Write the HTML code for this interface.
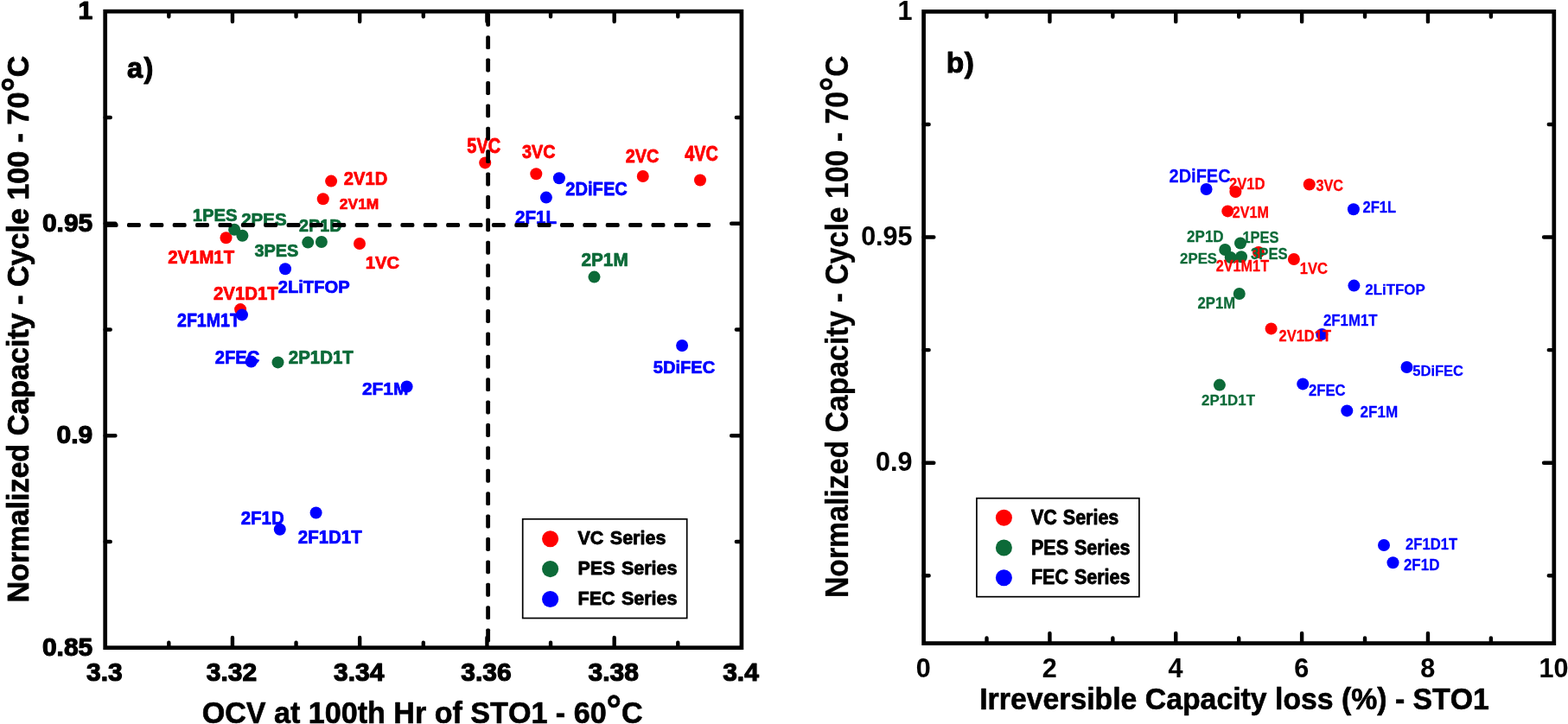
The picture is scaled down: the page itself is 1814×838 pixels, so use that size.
<!DOCTYPE html>
<html lang="en">
<head>
<meta charset="utf-8">
<title>Normalized Capacity vs OCV and Irreversible Capacity loss</title>
<style>
html,body{margin:0;padding:0;background:#fff;}
body{width:1814px;height:838px;overflow:hidden;}
svg{display:block;}
text{font-family:"Liberation Sans", Arial, Helvetica, sans-serif;font-weight:bold;stroke-linejoin:round;font-kerning:none;}
.k{fill:#000;stroke:#000;}
.r{fill:#ff0000;stroke:#ff0000;}
.g{fill:#0c6a38;stroke:#0c6a38;}
.b{fill:#0000ff;stroke:#0000ff;}
</style>
</head>
<body>
<svg width="1814" height="838" viewBox="0 0 1814 838">
<rect x="0" y="0" width="1814" height="838" fill="#ffffff" stroke="none"/>
<g id="plot-a">
<rect x="121.7" y="13.2" width="736.2" height="736.5" fill="none" stroke="#000" stroke-width="4.7"/>
<path d="M268.94 13.2v11.75M268.94 749.7v-11.75M416.18 13.2v11.75M416.18 749.7v-11.75M563.42 13.2v11.75M563.42 749.7v-11.75M710.66 13.2v11.75M710.66 749.7v-11.75M195.32 13.2v6.05M195.32 749.7v-6.05M342.56 13.2v6.05M342.56 749.7v-6.05M489.8 13.2v6.05M489.8 749.7v-6.05M637.04 13.2v6.05M637.04 749.7v-6.05M784.28 13.2v6.05M784.28 749.7v-6.05M121.7 258.7h11.75M857.9 258.7h-11.75M121.7 504.2h11.75M857.9 504.2h-11.75M121.7 135.95h6.05M857.9 135.95h-6.05M121.7 381.45h6.05M857.9 381.45h-6.05M121.7 626.95h6.05M857.9 626.95h-6.05" fill="none" stroke="#000" stroke-width="4.4" stroke-linecap="round"/>
<text transform="translate(120.8 788.1) scale(1 0.97)" font-size="30" stroke-width="1.2" text-anchor="middle" class="k">3.3</text>
<text transform="translate(268.04 788.1) scale(1 0.97)" font-size="30" stroke-width="1.2" text-anchor="middle" class="k">3.32</text>
<text transform="translate(415.28 788.1) scale(1 0.97)" font-size="30" stroke-width="1.2" text-anchor="middle" class="k">3.34</text>
<text transform="translate(562.52 788.1) scale(1 0.97)" font-size="30" stroke-width="1.2" text-anchor="middle" class="k">3.36</text>
<text transform="translate(709.76 788.1) scale(1 0.97)" font-size="30" stroke-width="1.2" text-anchor="middle" class="k">3.38</text>
<text transform="translate(857 788.1) scale(1 0.97)" font-size="30" stroke-width="1.2" text-anchor="middle" class="k">3.4</text>
<text transform="translate(107.3 22.4) scale(1 0.97)" font-size="30" stroke-width="1.2" text-anchor="end" class="k">1</text>
<text transform="translate(107.3 267.9) scale(1 0.97)" font-size="30" stroke-width="1.2" text-anchor="end" class="k">0.95</text>
<text transform="translate(107.3 513.4) scale(1 0.97)" font-size="30" stroke-width="1.2" text-anchor="end" class="k">0.9</text>
<text transform="translate(107.3 758.9) scale(1 0.97)" font-size="30" stroke-width="1.2" text-anchor="end" class="k">0.85</text>
<text transform="translate(233.7 837.3) scale(1 1.05)" font-size="34.1" stroke-width="0.6" class="k">OCV at 100th Hr of STO1 - 60<tspan font-size="43.5">°</tspan>C</text>
<text transform="translate(33.4 697.5) rotate(-90) scale(1 1.04)" font-size="34.1" stroke-width="0.7" class="k">Normalized Capacity - Cycle 100 - 70<tspan font-size="43.5">°</tspan>C</text>
<text transform="translate(147 89.6)" font-size="32.5" stroke-width="1.1" class="k" letter-spacing="1.5">a)</text>
<circle cx="383.1" cy="209.6" r="7" fill="#ff0000"/>
<circle cx="373.75" cy="230.25" r="7" fill="#ff0000"/>
<circle cx="261.5" cy="275.3" r="7" fill="#ff0000"/>
<circle cx="416" cy="282" r="7" fill="#ff0000"/>
<circle cx="278.1" cy="358.1" r="7" fill="#ff0000"/>
<circle cx="561.2" cy="188.4" r="7" fill="#ff0000"/>
<circle cx="620.3" cy="201.3" r="7" fill="#ff0000"/>
<circle cx="743.75" cy="204" r="7" fill="#ff0000"/>
<circle cx="810" cy="208.5" r="7" fill="#ff0000"/>
<circle cx="271.1" cy="265.8" r="7" fill="#0c6a38"/>
<circle cx="280.4" cy="272.8" r="7" fill="#0c6a38"/>
<circle cx="356.25" cy="280.6" r="7" fill="#0c6a38"/>
<circle cx="371.9" cy="280" r="7" fill="#0c6a38"/>
<circle cx="321.5" cy="419.4" r="7" fill="#0c6a38"/>
<circle cx="687.5" cy="320.6" r="7" fill="#0c6a38"/>
<circle cx="330" cy="311.25" r="7" fill="#0000ff"/>
<circle cx="280" cy="364.4" r="7" fill="#0000ff"/>
<circle cx="290.6" cy="418.5" r="7" fill="#0000ff"/>
<circle cx="365.6" cy="593.5" r="7" fill="#0000ff"/>
<circle cx="323.75" cy="612.75" r="7" fill="#0000ff"/>
<circle cx="646.9" cy="206.25" r="7" fill="#0000ff"/>
<circle cx="631.9" cy="228.6" r="7" fill="#0000ff"/>
<circle cx="789.1" cy="400" r="7" fill="#0000ff"/>
<circle cx="470.6" cy="447.5" r="7" fill="#0000ff"/>
<text transform="translate(397.85 214.15) scale(1 1.0638)" font-size="20.15" stroke-width="0.7" class="r">2V1D</text>
<text transform="translate(392.85 241.65) scale(1 0.9886)" font-size="17.41" stroke-width="0.7" class="r">2V1M</text>
<text transform="translate(194.15 305.35) scale(1 1.0484)" font-size="20.38" stroke-width="0.7" class="r">2V1M1T</text>
<text transform="translate(422.75 310.75) scale(1 1.0451)" font-size="20.19" stroke-width="0.7" class="r">1VC</text>
<text transform="translate(247 347.25) scale(1 1.0472)" font-size="20.41" stroke-width="0.7" class="r">2V1D1T</text>
<text transform="translate(540.35 176.75) scale(1 1.1705)" font-size="19.95" stroke-width="0.7" class="r">5VC</text>
<text transform="translate(604 182.6) scale(1 1.1169)" font-size="19.77" stroke-width="0.7" class="r">3VC</text>
<text transform="translate(723.75 188) scale(1 1.1134)" font-size="19.88" stroke-width="0.7" class="r">2VC</text>
<text transform="translate(792.25 185.5) scale(1 1.1633)" font-size="19.81" stroke-width="0.7" class="r">4VC</text>
<text transform="translate(222.75 255.75) scale(1 1.0016)" font-size="20.27" stroke-width="0.7" class="g">1PES</text>
<text transform="translate(279.15 260.5) scale(1 1.011)" font-size="20.57" stroke-width="0.7" class="g">2PES</text>
<text transform="translate(346 267.5) scale(1 1.0562)" font-size="19.82" stroke-width="0.7" class="g">2P1D</text>
<text transform="translate(294.5 297) scale(1 1.0567)" font-size="19.91" stroke-width="0.7" class="g">3PES</text>
<text transform="translate(333.75 421) scale(1 1.0458)" font-size="20.49" stroke-width="0.7" class="g">2P1D1T</text>
<text transform="translate(672.5 307.85) scale(1 1.0601)" font-size="20.74" stroke-width="0.7" class="g">2P1M</text>
<text transform="translate(321.65 338.9) scale(1 1.0126)" font-size="20.22" stroke-width="0.7" class="b">2LiTFOP</text>
<text transform="translate(205 378.25) scale(1 1.0996)" font-size="19.6" stroke-width="0.7" class="b">2F1M1T</text>
<text transform="translate(248.75 420.5) scale(1 1.0517)" font-size="20.18" stroke-width="0.7" class="b">2FEC</text>
<text transform="translate(278.75 607.25) scale(1 1.0469)" font-size="20.41" stroke-width="0.7" class="b">2F1D</text>
<text transform="translate(344.75 629.15) scale(1 1.0454)" font-size="20.5" stroke-width="0.7" class="b">2F1D1T</text>
<text transform="translate(654.35 226.4) scale(1 1.1124)" font-size="20.1" stroke-width="0.7" class="b">2DiFEC</text>
<text transform="translate(596 258.75) scale(1 1.0319)" font-size="20.58" stroke-width="0.7" class="b">2F1L</text>
<text transform="translate(755.75 432) scale(1 0.9949)" font-size="20.1" stroke-width="0.7" class="b">5DiFEC</text>
<text transform="translate(418.9 457.25) scale(1 0.9995)" font-size="20.94" stroke-width="0.7" class="b">2F1M</text>
<g id="guides" fill="#000">
<rect x="120.63" y="258" width="15.9" height="5" rx="1.7"/>
<rect x="147" y="258" width="15.9" height="5" rx="1.7"/>
<rect x="173.37" y="258" width="15.9" height="5" rx="1.7"/>
<rect x="199.74" y="258" width="15.9" height="5" rx="1.7"/>
<rect x="226.11" y="258" width="15.9" height="5" rx="1.7"/>
<rect x="252.48" y="258" width="15.9" height="5" rx="1.7"/>
<rect x="278.85" y="258" width="15.9" height="5" rx="1.7"/>
<rect x="305.22" y="258" width="15.9" height="5" rx="1.7"/>
<rect x="331.59" y="258" width="15.9" height="5" rx="1.7"/>
<rect x="357.96" y="258" width="15.9" height="5" rx="1.7"/>
<rect x="384.33" y="258" width="15.9" height="5" rx="1.7"/>
<rect x="410.7" y="258" width="15.9" height="5" rx="1.7"/>
<rect x="437.07" y="258" width="15.9" height="5" rx="1.7"/>
<rect x="463.44" y="258" width="15.9" height="5" rx="1.7"/>
<rect x="489.81" y="258" width="15.9" height="5" rx="1.7"/>
<rect x="516.18" y="258" width="15.9" height="5" rx="1.7"/>
<rect x="542.55" y="258" width="15.9" height="5" rx="1.7"/>
<rect x="568.92" y="258" width="15.9" height="5" rx="1.7"/>
<rect x="595.29" y="258" width="15.9" height="5" rx="1.7"/>
<rect x="621.66" y="258" width="15.9" height="5" rx="1.7"/>
<rect x="648.03" y="258" width="15.9" height="5" rx="1.7"/>
<rect x="674.4" y="258" width="15.9" height="5" rx="1.7"/>
<rect x="700.77" y="258" width="15.9" height="5" rx="1.7"/>
<rect x="727.14" y="258" width="15.9" height="5" rx="1.7"/>
<rect x="753.51" y="258" width="15.9" height="5" rx="1.7"/>
<rect x="779.88" y="258" width="15.9" height="5" rx="1.7"/>
<rect x="806.25" y="258" width="15.9" height="5" rx="1.7"/>
<rect x="562.2" y="14.8" width="4.85" height="15.9" rx="1.7"/>
<rect x="562.2" y="41.2" width="4.85" height="15.9" rx="1.7"/>
<rect x="562.2" y="67.6" width="4.85" height="15.9" rx="1.7"/>
<rect x="562.2" y="94" width="4.85" height="15.9" rx="1.7"/>
<rect x="562.2" y="120.4" width="4.85" height="15.9" rx="1.7"/>
<rect x="562.2" y="146.8" width="4.85" height="15.9" rx="1.7"/>
<rect x="562.2" y="173.2" width="4.85" height="15.9" rx="1.7"/>
<rect x="562.2" y="199.6" width="4.85" height="15.9" rx="1.7"/>
<rect x="562.2" y="226" width="4.85" height="15.9" rx="1.7"/>
<rect x="562.2" y="252.4" width="4.85" height="15.9" rx="1.7"/>
<rect x="562.2" y="278.8" width="4.85" height="15.9" rx="1.7"/>
<rect x="562.2" y="305.2" width="4.85" height="15.9" rx="1.7"/>
<rect x="562.2" y="331.6" width="4.85" height="15.9" rx="1.7"/>
<rect x="562.2" y="358" width="4.85" height="15.9" rx="1.7"/>
<rect x="562.2" y="384.4" width="4.85" height="15.9" rx="1.7"/>
<rect x="562.2" y="410.8" width="4.85" height="15.9" rx="1.7"/>
<rect x="562.2" y="437.2" width="4.85" height="15.9" rx="1.7"/>
<rect x="562.2" y="463.6" width="4.85" height="15.9" rx="1.7"/>
<rect x="562.2" y="490" width="4.85" height="15.9" rx="1.7"/>
<rect x="562.2" y="516.4" width="4.85" height="15.9" rx="1.7"/>
<rect x="562.2" y="542.8" width="4.85" height="15.9" rx="1.7"/>
<rect x="562.2" y="569.2" width="4.85" height="15.9" rx="1.7"/>
<rect x="562.2" y="595.6" width="4.85" height="15.9" rx="1.7"/>
<rect x="562.2" y="622" width="4.85" height="15.9" rx="1.7"/>
<rect x="562.2" y="648.4" width="4.85" height="15.9" rx="1.7"/>
<rect x="562.2" y="674.8" width="4.85" height="15.9" rx="1.7"/>
<rect x="562.2" y="701.2" width="4.85" height="15.9" rx="1.7"/>
<rect x="562.2" y="727.6" width="4.85" height="15.9" rx="1.7"/>
</g>
<rect x="604.7" y="600.8" width="190" height="114.7" fill="#fff" stroke="#000" stroke-width="1.7"/>
<circle cx="636.6" cy="623.75" r="9.55" fill="#ff0000"/>
<text transform="translate(668.5 630.05) scale(1 1.03)" font-size="21.5" stroke-width="0.8" class="k" word-spacing="1.5">VC Series</text>
<circle cx="636.6" cy="658.6" r="9.55" fill="#0c6a38"/>
<text transform="translate(668.5 664.9) scale(1 1.03)" font-size="21.5" stroke-width="0.8" class="k" word-spacing="1.5">PES Series</text>
<circle cx="636.6" cy="693.45" r="9.55" fill="#0000ff"/>
<text transform="translate(668.5 699.75) scale(1 1.03)" font-size="21.5" stroke-width="0.8" class="k" word-spacing="1.5">FEC Series</text>
</g>
<g id="plot-b">
<rect x="1068.6" y="13.4" width="729.2" height="731.2" fill="none" stroke="#000" stroke-width="4.7"/>
<path d="M1214.44 13.4v11.75M1214.44 744.6v-11.75M1360.28 13.4v11.75M1360.28 744.6v-11.75M1506.12 13.4v11.75M1506.12 744.6v-11.75M1651.96 13.4v11.75M1651.96 744.6v-11.75M1141.52 13.4v6.05M1141.52 744.6v-6.05M1287.36 13.4v6.05M1287.36 744.6v-6.05M1433.2 13.4v6.05M1433.2 744.6v-6.05M1579.04 13.4v6.05M1579.04 744.6v-6.05M1724.88 13.4v6.05M1724.88 744.6v-6.05M1068.6 274.54h11.75M1797.8 274.54h-11.75M1068.6 535.69h11.75M1797.8 535.69h-11.75M1068.6 143.97h6.05M1797.8 143.97h-6.05M1068.6 405.11h6.05M1797.8 405.11h-6.05M1068.6 666.26h6.05M1797.8 666.26h-6.05" fill="none" stroke="#000" stroke-width="4.4" stroke-linecap="round"/>
<text transform="translate(1068.3 783.6)" font-size="30.5" stroke-width="0.1" text-anchor="middle" class="k">0</text>
<text transform="translate(1214.14 783.6)" font-size="30.5" stroke-width="0.1" text-anchor="middle" class="k">2</text>
<text transform="translate(1359.98 783.6)" font-size="30.5" stroke-width="0.1" text-anchor="middle" class="k">4</text>
<text transform="translate(1505.82 783.6)" font-size="30.5" stroke-width="0.1" text-anchor="middle" class="k">6</text>
<text transform="translate(1651.66 783.6)" font-size="30.5" stroke-width="0.1" text-anchor="middle" class="k">8</text>
<text transform="translate(1797.5 783.6)" font-size="30.5" stroke-width="0.1" text-anchor="middle" class="k">10</text>
<text transform="translate(1055.5 23)" font-size="30.5" stroke-width="0.1" text-anchor="end" class="k">1</text>
<text transform="translate(1055.5 284.14)" font-size="30.5" stroke-width="0.1" text-anchor="end" class="k">0.95</text>
<text transform="translate(1055.5 545.29)" font-size="30.5" stroke-width="0.1" text-anchor="end" class="k">0.9</text>
<text transform="translate(1133.2 821) scale(1 1.02)" font-size="33.8" stroke-width="0.6" class="k">Irreversible Capacity loss (%) - STO1</text>
<text transform="translate(981.2 692.1) rotate(-90) scale(1 1.07)" font-size="33.8" stroke-width="0.3" class="k">Normalized Capacity - Cycle 100 - 70<tspan font-size="43">°</tspan>C</text>
<text transform="translate(1094.8 84)" font-size="33.5" stroke-width="1" class="k" letter-spacing="0.6">b)</text>
<circle cx="1429.4" cy="222.1" r="7" fill="#ff0000"/>
<circle cx="1514.75" cy="213.5" r="7" fill="#ff0000"/>
<circle cx="1420.3" cy="244.4" r="7" fill="#ff0000"/>
<circle cx="1456" cy="291.9" r="7" fill="#ff0000"/>
<circle cx="1496.9" cy="300" r="7" fill="#ff0000"/>
<circle cx="1470.6" cy="380.4" r="7" fill="#ff0000"/>
<circle cx="1435" cy="281.5" r="7" fill="#0c6a38"/>
<circle cx="1417.25" cy="289" r="7" fill="#0c6a38"/>
<circle cx="1423.75" cy="298.1" r="7" fill="#0c6a38"/>
<circle cx="1436" cy="297.25" r="7" fill="#0c6a38"/>
<circle cx="1433.75" cy="340" r="7" fill="#0c6a38"/>
<circle cx="1410.9" cy="445.6" r="7" fill="#0c6a38"/>
<circle cx="1395.6" cy="219" r="7" fill="#0000ff"/>
<circle cx="1565.9" cy="242.25" r="7" fill="#0000ff"/>
<circle cx="1566.4" cy="330.6" r="7" fill="#0000ff"/>
<circle cx="1529.4" cy="386.9" r="7" fill="#0000ff"/>
<circle cx="1627.5" cy="425" r="7" fill="#0000ff"/>
<circle cx="1507.25" cy="444.4" r="7" fill="#0000ff"/>
<circle cx="1558.3" cy="475.4" r="7" fill="#0000ff"/>
<circle cx="1601" cy="631" r="7" fill="#0000ff"/>
<circle cx="1611.5" cy="651.25" r="7" fill="#0000ff"/>
<text transform="translate(1422 218.75) scale(1 1.0893)" font-size="16.63" stroke-width="0.25" class="r">2V1D</text>
<text transform="translate(1522.5 221.15) scale(1 1.1351)" font-size="16.26" stroke-width="0.25" class="r">3VC</text>
<text transform="translate(1425.75 251.9) scale(1 1.1044)" font-size="16.11" stroke-width="0.25" class="r">2V1M</text>
<text transform="translate(1406.75 313.75) scale(1 1.1165)" font-size="16.22" stroke-width="0.25" class="r">2V1M1T</text>
<text transform="translate(1503.75 317.35) scale(1 1.0561)" font-size="16.65" stroke-width="0.25" class="r">1VC</text>
<text transform="translate(1479.5 395) scale(1 1.1255)" font-size="16.5" stroke-width="0.25" class="r">2V1D1T</text>
<text transform="translate(1373.1 279.6) scale(1 1.0382)" font-size="17.02" stroke-width="0.25" class="g">2P1D</text>
<text transform="translate(1437.4 280.55) scale(1 1.0586)" font-size="16.48" stroke-width="0.25" class="g">1PES</text>
<text transform="translate(1447 299.75) scale(1 1.0461)" font-size="16.68" stroke-width="0.25" class="g">3PES</text>
<text transform="translate(1365.1 305.35) scale(1 1.0371)" font-size="16.82" stroke-width="0.25" class="g">2PES</text>
<text transform="translate(1385.5 357.25) scale(1 1.0917)" font-size="16.71" stroke-width="0.25" class="g">2P1M</text>
<text transform="translate(1390.1 469) scale(1 1.0234)" font-size="16.88" stroke-width="0.25" class="g">2P1D1T</text>
<text transform="translate(1352.6 210.75) scale(1 1.1205)" font-size="19.97" stroke-width="0.25" class="b">2DiFEC</text>
<text transform="translate(1576.4 246.25) scale(1 1.12)" font-size="16.64" stroke-width="0.25" class="b">2F1L</text>
<text transform="translate(1579.25 341.25) scale(1 1.0274)" font-size="16.94" stroke-width="0.25" class="b">2LiTFOP</text>
<text transform="translate(1531 376.9) scale(1 1.0897)" font-size="16.8" stroke-width="0.25" class="b">2F1M1T</text>
<text transform="translate(1634.25 434.5) scale(1 1.0144)" font-size="16.56" stroke-width="0.25" class="b">5DiFEC</text>
<text transform="translate(1513.9 458.25) scale(1 1.0438)" font-size="16.72" stroke-width="0.25" class="b">2FEC</text>
<text transform="translate(1573.6 482.75) scale(1 1.067)" font-size="17.1" stroke-width="0.25" class="b">2F1M</text>
<text transform="translate(1626 635.6) scale(1 1.0701)" font-size="16.63" stroke-width="0.25" class="b">2F1D1T</text>
<text transform="translate(1623.9 660.25) scale(1 1.0648)" font-size="17.01" stroke-width="0.25" class="b">2F1D</text>
<rect x="1129.9" y="576.7" width="188" height="114" fill="#fff" stroke="#000" stroke-width="1.7"/>
<circle cx="1161.4" cy="599.3" r="9.5" fill="#ff0000"/>
<text transform="translate(1193 606.9) scale(1 1.08)" font-size="21.5" stroke-width="0.8" class="k" word-spacing="1">VC Series</text>
<circle cx="1161.4" cy="634.05" r="9.5" fill="#0c6a38"/>
<text transform="translate(1193 641.65) scale(1 1.08)" font-size="21.5" stroke-width="0.8" class="k" word-spacing="1">PES Series</text>
<circle cx="1161.4" cy="668.8" r="9.5" fill="#0000ff"/>
<text transform="translate(1193 676.4) scale(1 1.08)" font-size="21.5" stroke-width="0.8" class="k" word-spacing="1">FEC Series</text>
</g>
</svg>
</body>
</html>
